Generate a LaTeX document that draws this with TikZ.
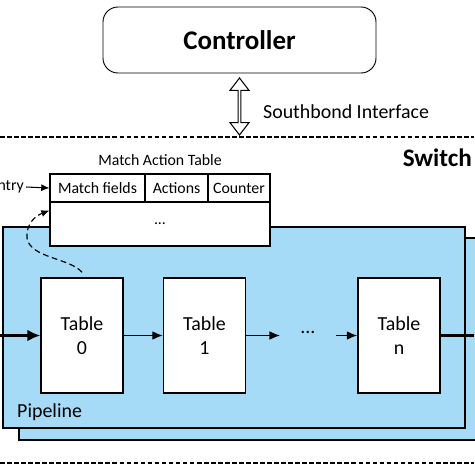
\documentclass[tikz,border=0pt]{standalone}
\usepackage{fontspec}
\setmainfont{Carlito}
\usetikzlibrary{shapes.arrows,arrows.meta}
\definecolor{pipeblue}{RGB}{166,219,248}

\begin{document}
\begin{tikzpicture}[x=0.03cm,y=-0.03cm,>={Latex[length=9pt,width=7.5pt]}]
  \useasboundingbox (0,0) rectangle (474,474);
  \tikzset{
    tbl/.style={draw,line width=1.2pt,fill=white,minimum width=2.46cm,minimum height=3.45cm,
      align=center,inner sep=0pt,font=\fontsize{17}{20.5}\selectfont},
    cell/.style={draw,line width=0.9pt,fill=white,minimum height=0.84cm,inner sep=0pt,
      font=\fontsize{13.5}{16}\selectfont},
    sepline/.style={line width=1.5pt,dash pattern=on 4pt off 2pt}
  }
  % controller and interface
  \node[draw,line width=0.8pt,rounded corners=0.45cm,minimum width=8.19cm,minimum height=1.98cm,
    font=\bfseries\fontsize{23}{27}\selectfont] (ctrl) at (239.5,40) {Controller};
  \node[draw,line width=0.9pt,double arrow,rotate=90,inner sep=0pt,minimum width=0.57cm,
    minimum height=1.71cm,double arrow head extend=0.1cm,double arrow tip angle=75] (sbi) at (239.5,106.5) {};
  \node[anchor=west,font=\fontsize{17}{20}\selectfont] (sbilabel) at (259,112) {Southbond Interface};
  \draw[sepline] (0,137) -- (474,137);
  \draw[sepline] (0,463) -- (474,463);
  \node[anchor=east,font=\bfseries\fontsize{21.5}{25}\selectfont] (sw) at (476,158) {Switch};

  % pipelines
  \draw[line width=1.6pt,fill=pipeblue] (19,238) rectangle (480,440);
  \draw[line width=1.6pt,fill=pipeblue] (3,227) rectangle (465,428);
  \node[anchor=west,inner sep=0pt,font=\fontsize{17}{20}\selectfont] (pl) at (17,412) {Pipeline};

  % match action table
  \node[font=\fontsize{13.5}{16}\selectfont] (mattitle) at (160,160) {Match Action Table};
  \node[cell,minimum width=2.85cm] (mf) at (97.5,188) {Match fields};
  \node[cell,minimum width=1.89cm] (act) at (176.5,188) {Actions};
  \node[cell,minimum width=1.86cm] (cnt) at (239,188) {Counter};
  \node[cell,minimum width=6.6cm,minimum height=1.32cm] (body) at (160,224) {...};
  \node[anchor=east,inner sep=0pt,font=\fontsize{13.5}{16}\selectfont] (entry) at (24,187) {Entry};
  \draw[-{Latex[length=7pt,width=6pt]},line width=0.9pt] (entry.east) ++(2,0) -- (mf.west);

  % tables
  \node[tbl] (t0) at (82,335.5) {Table\\0};
  \node[tbl] (t1) at (204.5,335.5) {Table\\1};
  \node[font=\fontsize{17}{20}\selectfont] (tdots) at (308,332) {...};
  \node[tbl] (tn) at (399,335.5) {Table\\n};
  \coordinate (in) at (0,335.5);
  \coordinate (out) at (474,335.5);
  \coordinate (d1) at (280,335.5);
  \coordinate (d2) at (336,335.5);
  \draw[-{Latex[length=11pt,width=10pt]},line width=2pt] (in) -- (t0.west);
  \draw[->,line width=1.2pt] (t0.east) -- (t1.west);
  \draw[->,line width=1.2pt] (t1.east) -- (d1);
  \draw[->,line width=1.2pt] (d2) -- (tn.west);
  \draw[line width=2pt] (tn.east) -- (out);
  \draw[-{Latex[length=7pt,width=6pt]},dash pattern=on 5pt off 3pt,line width=1pt] ([yshift=0.15cm]t0.north)
    .. controls (70,258) and (30,258) .. (27,238)
    .. controls (26,224) and (35,216) .. ([yshift=-0.27cm]body.north west);
\end{tikzpicture}
\end{document}
